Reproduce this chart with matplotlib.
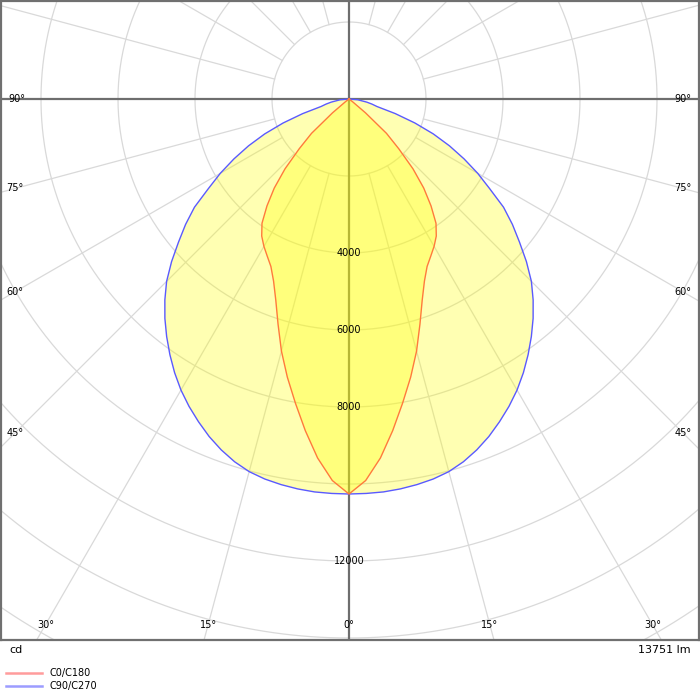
import numpy as np
import matplotlib.pyplot as plt
from matplotlib.lines import Line2D

# -------------------------------------------------------
# Photometric data (cd), gamma angles from nadir
# -------------------------------------------------------

gamma = [0, 2.5, 5, 7.5, 10, 12.5, 15, 17.5, 20, 22.5, 25, 27.5, 30, 32.5,
         35, 37.5, 40, 42.5, 45, 47.5, 50, 52.5, 55, 57.5, 60, 62.5, 65,
         67.5, 70, 72.5, 75, 77.5, 80, 85, 90]

c0_c180 = [10260, 9920, 9360, 8690, 8020, 7400, 6780, 6130, 5560, 5120,
           4800, 4600, 4420, 4220, 3940, 3500, 3020, 2460, 1830, 1320,
           560, 120, 0, 0, 0, 0, 0, 0, 0, 0, 0, 0, 0, 0, 0]

c90_c270 = [10260, 10255, 10245, 10215, 10170, 10110, 10020, 9880, 9700, 9490,
            9250, 9000, 8730, 8430, 8110, 7780, 7440, 7080, 6700, 6250,
            5780, 5350, 4900, 4330, 3860, 3370, 2880, 2370, 1820, 1260,
            750, 610, 470, 230, 0]

intensity_labels = [4000, 6000, 8000, 12000]
angle_labels = [0, 15, 30, 45, 60, 75, 90]
flux_text = "13751 lm"

# -------------------------------------------------------
# Figure setup: 38.5 px per 1000 cd, centre at pixel (349, 99)
# -------------------------------------------------------

PX = 38.5 / 1000.0
fig = plt.figure(figsize=(7, 7), dpi=100)
ax = fig.add_axes([1 / 700, 1 - 640 / 700, 698 / 700, 639 / 700])
x0, x1 = -348 / PX, 350 / PX
y0, y1 = -541 / PX, 98 / PX
ax.set_xlim(x0, x1)
ax.set_ylim(y0, y1)
ax.set_xticks([])
ax.set_yticks([])
for s in ax.spines.values():
    s.set_color("#707070")
    s.set_linewidth(1.6)

grid_col = "#d9d9d9"
dark = "#6e6e6e"

# circles
t = np.linspace(0, 2 * np.pi, 721)
for r in range(2000, 18001, 2000):
    ax.plot(r * np.sin(t), r * np.cos(t), color=grid_col, lw=0.9, zorder=1)

# radial lines every 15 degrees, starting at first circle
for a in range(0, 360, 15):
    if a % 90 == 0:
        continue
    ar = np.radians(a)
    ax.plot([2000 * np.sin(ar), 30000 * np.sin(ar)],
            [-2000 * np.cos(ar), -30000 * np.cos(ar)],
            color=grid_col, lw=0.9, zorder=1)

# main axes lines
ax.axhline(0, color=dark, lw=1.6, zorder=2)
ax.axvline(0, color=dark, lw=1.6, zorder=2)

# curves
def to_xy(values):
    g = np.radians(np.array(gamma, dtype=float))
    v = np.array(values, dtype=float)
    gg = np.concatenate([-g[::-1], g[1:]])
    vv = np.concatenate([v[::-1], v[1:]])
    return vv * np.sin(gg), -vv * np.cos(gg)

bx, by = to_xy(c90_c270)
rx, ry = to_xy(c0_c180)
ax.fill(bx, by, color="yellow", alpha=0.3, lw=0, zorder=3)
ax.fill(rx, ry, color="yellow", alpha=0.3, lw=0, zorder=3)
ax.plot(bx, by, color="#5a5aff", lw=1.0, zorder=4)
ax.plot(rx, ry, color="#ff7a3c", lw=1.0, zorder=4)

# intensity labels
for v in intensity_labels:
    ax.text(0, -v, str(v), ha="center", va="center", fontsize=7, zorder=5)

# angle labels along the frame
inset_x = 16 / PX
inset_y = 15 / PX
for a in angle_labels:
    ar = np.radians(a)
    if a == 90:
        pts = [(x0 + inset_x, 0), (x1 - inset_x, 0)]
    else:
        ylab = y0 + inset_y
        xlab = -ylab * np.tan(ar)
        if xlab < x1 - inset_x:
            pts = [(-xlab, ylab), (xlab, ylab)]
        else:
            xe = x1 - inset_x
            pts = [(-xe, -xe / np.tan(ar)), (xe, -xe / np.tan(ar))]
    if a == 0:
        pts = pts[:1]
    for px, py in pts:
        ax.text(px, py, f"{a}°", ha="center", va="center", fontsize=7, zorder=5)

# bottom texts and legend
fig.text(9 / 700, 1 - 650 / 700, "cd", ha="left", va="center", fontsize=8)
fig.text(691 / 700, 1 - 650 / 700, flux_text, ha="right", va="center", fontsize=8)

legend_items = [("C0/C180", "#ff9c9c", 673), ("C90/C270", "#9c9cff", 686)]
for name, col, ypx in legend_items:
    fy = 1 - ypx / 700
    fig.add_artist(Line2D([6 / 700, 42 / 700], [fy, fy], color=col, lw=1.8))
    fig.text(50 / 700, fy, name, ha="left", va="center", fontsize=7)

plt.savefig("out.png", dpi=100)
plt.close()
